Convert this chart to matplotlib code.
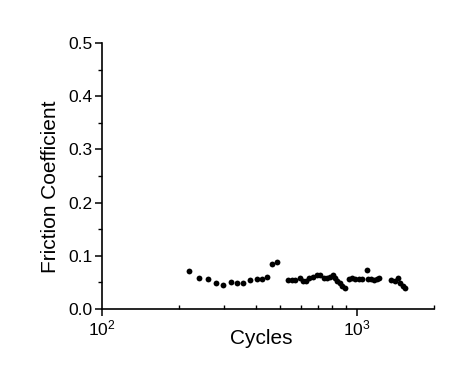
import matplotlib

matplotlib.use("Agg")
import matplotlib.pyplot as plt
from matplotlib.ticker import MultipleLocator, LogLocator, LogFormatterMathtext, NullFormatter

plt.rcParams["font.family"] = ["Liberation Sans", "DejaVu Sans"]
plt.rcParams["mathtext.fontset"] = "custom"
plt.rcParams["mathtext.rm"] = "Liberation Sans"
plt.rcParams["mathtext.it"] = "Liberation Sans:italic"

# friction coefficient vs. cycles
cycles = [
    220, 241, 260, 280, 299, 320, 338, 358, 381, 404, 423, 442, 463, 484,
    538, 555, 571, 598, 612, 631, 650, 671, 695, 716, 738, 761, 784, 803,
    820, 837, 858, 871, 897, 925, 953, 982, 1012, 1049, 1092, 1102, 1135,
    1159, 1195, 1220, 1359, 1401, 1444, 1475, 1506, 1533,
]
friction = [
    0.071, 0.058, 0.056, 0.048, 0.045, 0.051, 0.049, 0.049, 0.055, 0.056,
    0.056, 0.061, 0.085, 0.088,
    0.055, 0.055, 0.055, 0.059, 0.053, 0.053, 0.058, 0.061, 0.063, 0.063,
    0.059, 0.058, 0.061, 0.064, 0.059, 0.053, 0.048, 0.044, 0.040, 0.056,
    0.058, 0.056, 0.056, 0.056, 0.073, 0.056, 0.056, 0.055, 0.056, 0.058,
    0.055, 0.053, 0.059, 0.048, 0.044, 0.039,
]

fig = plt.figure(figsize=(4.74, 3.75), dpi=100)
ax = fig.add_axes([0.2152, 0.176, 0.7004, 0.709])
ax.plot(cycles, friction, "o", color="black", markersize=4.2, markeredgewidth=0)

ax.set_xscale("log")
ax.set_xlim(100, 2000)
ax.set_ylim(0.0, 0.5)
ax.yaxis.set_major_locator(MultipleLocator(0.1))
ax.yaxis.set_minor_locator(MultipleLocator(0.05))
ax.yaxis.set_major_formatter(plt.FormatStrFormatter("%.1f"))
ax.xaxis.set_major_locator(LogLocator(base=10))
ax.xaxis.set_major_formatter(LogFormatterMathtext())
ax.xaxis.set_minor_locator(LogLocator(base=10, subs=range(2, 10)))
ax.xaxis.set_minor_formatter(NullFormatter())

for side in ("top", "right"):
    ax.spines[side].set_visible(False)
for side in ("left", "bottom"):
    ax.spines[side].set_linewidth(1.2)

ax.tick_params(axis="both", which="major", direction="out", length=5, width=1.1, labelsize=12.5, pad=2)
ax.tick_params(axis="y", which="minor", direction="out", length=3, width=1.0)
ax.tick_params(axis="x", which="minor", direction="in", length=3, width=1.0)

ax.set_xlabel("Cycles", fontsize=15)
ax.set_ylabel("Friction Coefficient", fontsize=15)
ax.xaxis.set_label_coords(0.481, -0.075, transform=ax.transAxes)
ax.xaxis.label.set_va("top")
ax.yaxis.set_label_coords(-0.128, 0.46, transform=ax.transAxes)

fig.savefig("out.png", dpi=100)
